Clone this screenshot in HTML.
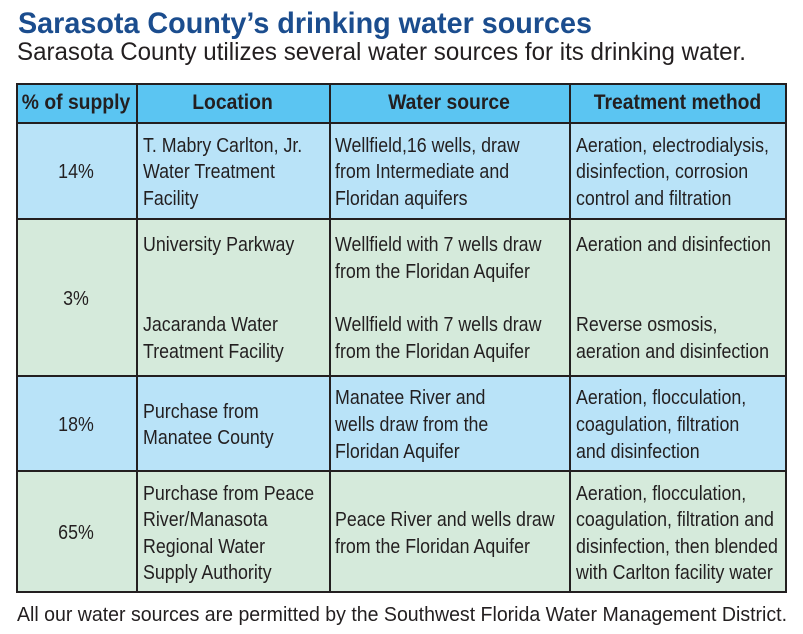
<!DOCTYPE html>
<html><head><meta charset="utf-8">
<style>
body{margin:0;width:803px;height:634px;background:#fff;position:relative;overflow:hidden;font-family:"Liberation Sans",sans-serif;color:#231f20}
.cell{position:absolute;box-sizing:border-box}
.ln{position:absolute;height:26px;line-height:26px;font-size:20px;white-space:nowrap;transform:scaleX(.89);transform-origin:left center}
.c{transform-origin:center center;text-align:center}
.h{font-weight:bold;font-size:21px;transform:scaleX(.92)}
.vl{position:absolute;top:83px;width:1.5px;height:510px;background:#231f20}
.hl{position:absolute;left:16px;width:771px;height:1.5px;background:#231f20}
</style></head><body>
<svg width="803" height="80" style="position:absolute;left:0;top:0">
<text x="18" y="33" font-family="Liberation Sans" font-weight="bold" font-size="30" fill="#1b4d8e" textLength="574" lengthAdjust="spacingAndGlyphs">Sarasota County’s drinking water sources</text>
<text x="17" y="60" font-family="Liberation Sans" font-size="25" fill="#231f20" textLength="729" lengthAdjust="spacingAndGlyphs">Sarasota County utilizes several water sources for its drinking water.</text>
</svg>
<div class="cell" style="left:16px;top:83px;width:771px;height:40px;background:#5bc5f2"></div>
<div class="cell" style="left:16px;top:123px;width:771px;height:96px;background:#b9e3f8"></div>
<div class="cell" style="left:16px;top:219px;width:771px;height:157px;background:#d5eadb"></div>
<div class="cell" style="left:16px;top:376px;width:771px;height:95px;background:#b9e3f8"></div>
<div class="cell" style="left:16px;top:471px;width:771px;height:122px;background:#d5eadb"></div>
<div class="vl" style="left:16px"></div><div class="vl" style="left:136px"></div><div class="vl" style="left:329px"></div><div class="vl" style="left:569px"></div><div class="vl" style="left:785px"></div>
<div class="hl" style="top:83px"></div><div class="hl" style="top:122px"></div><div class="hl" style="top:218px"></div><div class="hl" style="top:375px"></div><div class="hl" style="top:470px"></div><div class="hl" style="top:591px"></div>

<div class="ln c h" style="left:16px;width:120px;top:90px">% of supply</div>
<div class="ln c h" style="left:136px;width:193px;top:90px">Location</div>
<div class="ln c h" style="left:329px;width:240px;top:90px">Water source</div>
<div class="ln c h" style="left:569px;width:217px;top:90px">Treatment method</div>

<div class="ln c" style="left:16px;width:120px;top:159px">14%</div>
<div class="ln" style="left:143px;top:133px">T. Mabry Carlton, Jr.</div>
<div class="ln" style="left:143px;top:159px">Water Treatment</div>
<div class="ln" style="left:143px;top:186px">Facility</div>
<div class="ln" style="left:335px;top:133px">Wellfield,16 wells, draw</div>
<div class="ln" style="left:335px;top:159px">from Intermediate and</div>
<div class="ln" style="left:335px;top:186px">Floridan aquifers</div>
<div class="ln" style="left:576px;top:133px">Aeration, electrodialysis,</div>
<div class="ln" style="left:576px;top:159px">disinfection, corrosion</div>
<div class="ln" style="left:576px;top:186px">control and filtration</div>

<div class="ln c" style="left:16px;width:120px;top:286px">3%</div>
<div class="ln" style="left:143px;top:232px">University Parkway</div>
<div class="ln" style="left:143px;top:312px">Jacaranda Water</div>
<div class="ln" style="left:143px;top:339px">Treatment Facility</div>
<div class="ln" style="left:335px;top:232px">Wellfield with 7 wells draw</div>
<div class="ln" style="left:335px;top:259px">from the Floridan Aquifer</div>
<div class="ln" style="left:335px;top:312px">Wellfield with 7 wells draw</div>
<div class="ln" style="left:335px;top:339px">from the Floridan Aquifer</div>
<div class="ln" style="left:576px;top:232px">Aeration and disinfection</div>
<div class="ln" style="left:576px;top:312px">Reverse osmosis,</div>
<div class="ln" style="left:576px;top:339px">aeration and disinfection</div>

<div class="ln c" style="left:16px;width:120px;top:412px">18%</div>
<div class="ln" style="left:143px;top:399px">Purchase from</div>
<div class="ln" style="left:143px;top:425px">Manatee County</div>
<div class="ln" style="left:335px;top:385px">Manatee River and</div>
<div class="ln" style="left:335px;top:412px">wells draw from the</div>
<div class="ln" style="left:335px;top:439px">Floridan Aquifer</div>
<div class="ln" style="left:576px;top:385px">Aeration, flocculation,</div>
<div class="ln" style="left:576px;top:412px">coagulation, filtration</div>
<div class="ln" style="left:576px;top:439px">and disinfection</div>

<div class="ln c" style="left:16px;width:120px;top:520px">65%</div>
<div class="ln" style="left:143px;top:481px">Purchase from Peace</div>
<div class="ln" style="left:143px;top:507px">River/Manasota</div>
<div class="ln" style="left:143px;top:534px">Regional Water</div>
<div class="ln" style="left:143px;top:560px">Supply Authority</div>
<div class="ln" style="left:335px;top:507px">Peace River and wells draw</div>
<div class="ln" style="left:335px;top:534px">from the Floridan Aquifer</div>
<div class="ln" style="left:576px;top:481px">Aeration, flocculation,</div>
<div class="ln" style="left:576px;top:507px">coagulation, filtration and</div>
<div class="ln" style="left:576px;top:534px">disinfection, then blended</div>
<div class="ln" style="left:576px;top:560px">with Carlton facility water</div>

<svg width="803" height="40" style="position:absolute;left:0;top:594px">
<text x="17" y="27" font-family="Liberation Sans" font-size="20" fill="#231f20" textLength="770" lengthAdjust="spacingAndGlyphs">All our water sources are permitted by the Southwest Florida Water Management District.</text>
</svg>
</body></html>
